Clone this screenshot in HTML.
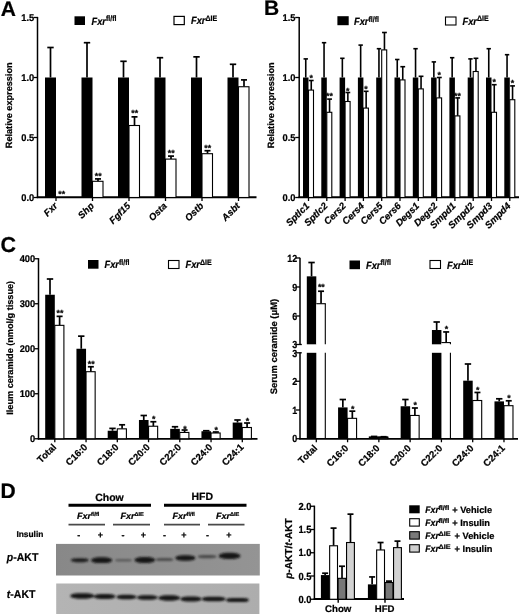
<!DOCTYPE html>
<html lang="en"><head><meta charset="utf-8"><title>Figure</title><style>html,body{margin:0;padding:0;background:#fff}svg{display:block;text-rendering:geometricPrecision}text{stroke:#000;stroke-width:0.22px}</style></head><body>
<svg width="520" height="615" viewBox="0 0 520 615" font-family="'Liberation Sans', sans-serif" fill="#000">
<defs><filter id="bl" x="-20%" y="-50%" width="140%" height="200%"><feGaussianBlur stdDeviation="1.0 0.8"/></filter><filter id="bl2" x="-20%" y="-50%" width="140%" height="200%"><feGaussianBlur stdDeviation="1.0 0.8"/></filter></defs>
<rect x="0.00" y="0.00" width="520.00" height="615.00" fill="#fff"/>
<text x="0.80" y="15.70" font-size="21" font-weight="bold" font-style="normal" text-anchor="start">A</text>
<text x="264.00" y="15.30" font-size="21" font-weight="bold" font-style="normal" text-anchor="start">B</text>
<text x="0.60" y="251.50" font-size="21.5" font-weight="bold" font-style="normal" text-anchor="start">C</text>
<text x="0.60" y="498.30" font-size="21" font-weight="bold" font-style="normal" text-anchor="start">D</text>
<line x1="37.50" y1="16.90" x2="37.50" y2="198.10" stroke="#000" stroke-width="1.5"/>
<line x1="36.80" y1="197.30" x2="256.50" y2="197.30" stroke="#000" stroke-width="1.9"/>
<line x1="33.50" y1="197.50" x2="37.50" y2="197.50" stroke="#000" stroke-width="1.3"/>
<text transform="translate(34.20 200.60) scale(0.96 1)" font-size="9.7" font-weight="bold" font-style="normal" text-anchor="end">0.0</text>
<line x1="33.50" y1="137.50" x2="37.50" y2="137.50" stroke="#000" stroke-width="1.3"/>
<text transform="translate(34.20 140.60) scale(0.96 1)" font-size="9.7" font-weight="bold" font-style="normal" text-anchor="end">0.5</text>
<line x1="33.50" y1="77.50" x2="37.50" y2="77.50" stroke="#000" stroke-width="1.3"/>
<text transform="translate(34.20 80.60) scale(0.96 1)" font-size="9.7" font-weight="bold" font-style="normal" text-anchor="end">1.0</text>
<line x1="33.50" y1="17.50" x2="37.50" y2="17.50" stroke="#000" stroke-width="1.3"/>
<text transform="translate(34.20 20.60) scale(0.96 1)" font-size="9.7" font-weight="bold" font-style="normal" text-anchor="end">1.5</text>
<text transform="translate(12.30 105.30) rotate(-90)" font-size="9.15" font-weight="bold" font-style="normal" text-anchor="middle">Relative expression</text>
<line x1="50.50" y1="47.50" x2="50.50" y2="77.50" stroke="#000" stroke-width="1.7"/>
<line x1="47.30" y1="47.50" x2="53.70" y2="47.50" stroke="#000" stroke-width="1.7"/>
<rect x="45.00" y="77.50" width="11.00" height="120.00" fill="#000"/>
<text x="61.80" y="196.50" font-size="8.8" font-weight="bold" font-style="normal" text-anchor="middle">**</text>
<line x1="56.00" y1="197.50" x2="56.00" y2="201.00" stroke="#000" stroke-width="1.3"/>
<text transform="translate(58.00 206.50) rotate(-45)" font-size="9.5" font-weight="bold" font-style="italic" text-anchor="end">Fxr</text>
<line x1="87.00" y1="42.70" x2="87.00" y2="77.50" stroke="#000" stroke-width="1.7"/>
<line x1="83.80" y1="42.70" x2="90.20" y2="42.70" stroke="#000" stroke-width="1.7"/>
<rect x="81.50" y="77.50" width="11.00" height="120.00" fill="#000"/>
<line x1="98.00" y1="178.90" x2="98.00" y2="181.30" stroke="#000" stroke-width="1.7"/>
<line x1="95.00" y1="178.90" x2="101.00" y2="178.90" stroke="#000" stroke-width="1.7"/>
<rect x="92.50" y="181.30" width="10.50" height="16.20" fill="#fff" stroke="#000" stroke-width="1.1"/>
<text x="98.30" y="178.50" font-size="8.8" font-weight="bold" font-style="normal" text-anchor="middle">**</text>
<line x1="92.50" y1="197.50" x2="92.50" y2="201.00" stroke="#000" stroke-width="1.3"/>
<text transform="translate(94.50 206.50) rotate(-45)" font-size="9.5" font-weight="bold" font-style="italic" text-anchor="end">Shp</text>
<line x1="123.50" y1="61.30" x2="123.50" y2="77.50" stroke="#000" stroke-width="1.7"/>
<line x1="120.30" y1="61.30" x2="126.70" y2="61.30" stroke="#000" stroke-width="1.7"/>
<rect x="118.00" y="77.50" width="11.00" height="120.00" fill="#000"/>
<line x1="134.50" y1="116.86" x2="134.50" y2="125.50" stroke="#000" stroke-width="1.7"/>
<line x1="131.50" y1="116.86" x2="137.50" y2="116.86" stroke="#000" stroke-width="1.7"/>
<rect x="129.00" y="125.50" width="10.50" height="72.00" fill="#fff" stroke="#000" stroke-width="1.1"/>
<text x="134.80" y="116.20" font-size="8.8" font-weight="bold" font-style="normal" text-anchor="middle">**</text>
<line x1="129.00" y1="197.50" x2="129.00" y2="201.00" stroke="#000" stroke-width="1.3"/>
<text transform="translate(131.00 206.50) rotate(-45)" font-size="9.5" font-weight="bold" font-style="italic" text-anchor="end">Fgf15</text>
<line x1="160.00" y1="57.70" x2="160.00" y2="77.50" stroke="#000" stroke-width="1.7"/>
<line x1="156.80" y1="57.70" x2="163.20" y2="57.70" stroke="#000" stroke-width="1.7"/>
<rect x="154.50" y="77.50" width="11.00" height="120.00" fill="#000"/>
<line x1="171.00" y1="156.10" x2="171.00" y2="159.10" stroke="#000" stroke-width="1.7"/>
<line x1="168.00" y1="156.10" x2="174.00" y2="156.10" stroke="#000" stroke-width="1.7"/>
<rect x="165.50" y="159.10" width="10.50" height="38.40" fill="#fff" stroke="#000" stroke-width="1.1"/>
<text x="171.30" y="155.50" font-size="8.8" font-weight="bold" font-style="normal" text-anchor="middle">**</text>
<line x1="165.50" y1="197.50" x2="165.50" y2="201.00" stroke="#000" stroke-width="1.3"/>
<text transform="translate(167.50 206.50) rotate(-45)" font-size="9.5" font-weight="bold" font-style="italic" text-anchor="end">Osta</text>
<line x1="196.50" y1="56.86" x2="196.50" y2="77.50" stroke="#000" stroke-width="1.7"/>
<line x1="193.30" y1="56.86" x2="199.70" y2="56.86" stroke="#000" stroke-width="1.7"/>
<rect x="191.00" y="77.50" width="11.00" height="120.00" fill="#000"/>
<line x1="207.50" y1="150.70" x2="207.50" y2="153.70" stroke="#000" stroke-width="1.7"/>
<line x1="204.50" y1="150.70" x2="210.50" y2="150.70" stroke="#000" stroke-width="1.7"/>
<rect x="202.00" y="153.70" width="10.50" height="43.80" fill="#fff" stroke="#000" stroke-width="1.1"/>
<text x="207.80" y="151.00" font-size="8.8" font-weight="bold" font-style="normal" text-anchor="middle">**</text>
<line x1="202.00" y1="197.50" x2="202.00" y2="201.00" stroke="#000" stroke-width="1.3"/>
<text transform="translate(204.00 206.50) rotate(-45)" font-size="9.5" font-weight="bold" font-style="italic" text-anchor="end">Ostb</text>
<line x1="233.00" y1="64.30" x2="233.00" y2="77.50" stroke="#000" stroke-width="1.7"/>
<line x1="229.80" y1="64.30" x2="236.20" y2="64.30" stroke="#000" stroke-width="1.7"/>
<rect x="227.50" y="77.50" width="11.00" height="120.00" fill="#000"/>
<line x1="244.00" y1="79.90" x2="244.00" y2="86.74" stroke="#000" stroke-width="1.7"/>
<line x1="241.00" y1="79.90" x2="247.00" y2="79.90" stroke="#000" stroke-width="1.7"/>
<rect x="238.50" y="86.74" width="10.50" height="110.76" fill="#fff" stroke="#000" stroke-width="1.1"/>
<line x1="238.50" y1="197.50" x2="238.50" y2="201.00" stroke="#000" stroke-width="1.3"/>
<text transform="translate(240.50 206.50) rotate(-45)" font-size="9.5" font-weight="bold" font-style="italic" text-anchor="end">Asbt</text>
<rect x="74.50" y="16.30" width="10.50" height="8.70" fill="#000"/>
<text transform="translate(91.50 24.60) scale(0.88 1)" font-size="10.5" font-weight="bold" font-style="italic" stroke="#000" stroke-width="0.25">Fxr<tspan font-style="normal" font-size="8.0" dy="-3.4">fl/fl</tspan></text>
<rect x="174.00" y="16.40" width="10.30" height="8.20" fill="#fff" stroke="#000" stroke-width="1.2"/>
<text transform="translate(191.00 24.40) scale(0.88 1)" font-size="10.5" font-weight="bold" font-style="italic" stroke="#000" stroke-width="0.25">Fxr<tspan font-style="normal" font-size="8.0" dy="-3.4">ΔIE</tspan></text>
<line x1="299.20" y1="16.90" x2="299.20" y2="198.10" stroke="#000" stroke-width="1.5"/>
<line x1="298.50" y1="197.30" x2="519.00" y2="197.30" stroke="#000" stroke-width="1.9"/>
<line x1="295.20" y1="197.50" x2="299.20" y2="197.50" stroke="#000" stroke-width="1.3"/>
<text transform="translate(295.40 200.60) scale(0.96 1)" font-size="9.7" font-weight="bold" font-style="normal" text-anchor="end">0.0</text>
<line x1="295.20" y1="137.50" x2="299.20" y2="137.50" stroke="#000" stroke-width="1.3"/>
<text transform="translate(295.40 140.60) scale(0.96 1)" font-size="9.7" font-weight="bold" font-style="normal" text-anchor="end">0.5</text>
<line x1="295.20" y1="77.50" x2="299.20" y2="77.50" stroke="#000" stroke-width="1.3"/>
<text transform="translate(295.40 80.60) scale(0.96 1)" font-size="9.7" font-weight="bold" font-style="normal" text-anchor="end">1.0</text>
<line x1="295.20" y1="17.50" x2="299.20" y2="17.50" stroke="#000" stroke-width="1.3"/>
<text transform="translate(295.40 20.60) scale(0.96 1)" font-size="9.7" font-weight="bold" font-style="normal" text-anchor="end">1.5</text>
<text transform="translate(274.30 105.30) rotate(-90)" font-size="9.15" font-weight="bold" font-style="normal" text-anchor="middle">Relative expression</text>
<line x1="305.75" y1="58.90" x2="305.75" y2="77.50" stroke="#000" stroke-width="1.6"/>
<line x1="303.55" y1="58.90" x2="307.95" y2="58.90" stroke="#000" stroke-width="1.6"/>
<rect x="303.00" y="77.50" width="5.50" height="120.00" fill="#000"/>
<line x1="311.25" y1="80.50" x2="311.25" y2="90.10" stroke="#000" stroke-width="1.6"/>
<line x1="308.85" y1="80.50" x2="313.65" y2="80.50" stroke="#000" stroke-width="1.6"/>
<rect x="308.50" y="90.10" width="5.00" height="107.40" fill="#fff" stroke="#000" stroke-width="1.1"/>
<text x="311.15" y="80.90" font-size="8.8" font-weight="bold" font-style="normal" text-anchor="middle">*</text>
<line x1="308.50" y1="197.50" x2="308.50" y2="201.00" stroke="#000" stroke-width="1.3"/>
<text transform="translate(310.00 206.50) rotate(-45)" font-size="9.6" font-weight="bold" font-style="italic" text-anchor="end">Sptlc1</text>
<line x1="324.05" y1="42.70" x2="324.05" y2="77.50" stroke="#000" stroke-width="1.6"/>
<line x1="321.85" y1="42.70" x2="326.25" y2="42.70" stroke="#000" stroke-width="1.6"/>
<rect x="321.30" y="77.50" width="5.50" height="120.00" fill="#000"/>
<line x1="329.55" y1="99.10" x2="329.55" y2="112.30" stroke="#000" stroke-width="1.6"/>
<line x1="327.15" y1="99.10" x2="331.95" y2="99.10" stroke="#000" stroke-width="1.6"/>
<rect x="326.80" y="112.30" width="5.00" height="85.20" fill="#fff" stroke="#000" stroke-width="1.1"/>
<text x="329.45" y="99.40" font-size="8.8" font-weight="bold" font-style="normal" text-anchor="middle">**</text>
<line x1="326.80" y1="197.50" x2="326.80" y2="201.00" stroke="#000" stroke-width="1.3"/>
<text transform="translate(328.30 206.50) rotate(-45)" font-size="9.6" font-weight="bold" font-style="italic" text-anchor="end">Sptlc2</text>
<line x1="342.35" y1="58.30" x2="342.35" y2="77.50" stroke="#000" stroke-width="1.6"/>
<line x1="340.15" y1="58.30" x2="344.55" y2="58.30" stroke="#000" stroke-width="1.6"/>
<rect x="339.60" y="77.50" width="5.50" height="120.00" fill="#000"/>
<line x1="347.85" y1="92.50" x2="347.85" y2="101.50" stroke="#000" stroke-width="1.6"/>
<line x1="345.45" y1="92.50" x2="350.25" y2="92.50" stroke="#000" stroke-width="1.6"/>
<rect x="345.10" y="101.50" width="5.00" height="96.00" fill="#fff" stroke="#000" stroke-width="1.1"/>
<text x="347.75" y="93.90" font-size="8.8" font-weight="bold" font-style="normal" text-anchor="middle">*</text>
<line x1="345.10" y1="197.50" x2="345.10" y2="201.00" stroke="#000" stroke-width="1.3"/>
<text transform="translate(346.60 206.50) rotate(-45)" font-size="9.6" font-weight="bold" font-style="italic" text-anchor="end">Cers2</text>
<line x1="360.65" y1="45.10" x2="360.65" y2="77.50" stroke="#000" stroke-width="1.6"/>
<line x1="358.45" y1="45.10" x2="362.85" y2="45.10" stroke="#000" stroke-width="1.6"/>
<rect x="357.90" y="77.50" width="5.50" height="120.00" fill="#000"/>
<line x1="366.15" y1="91.30" x2="366.15" y2="108.10" stroke="#000" stroke-width="1.6"/>
<line x1="363.75" y1="91.30" x2="368.55" y2="91.30" stroke="#000" stroke-width="1.6"/>
<rect x="363.40" y="108.10" width="5.00" height="89.40" fill="#fff" stroke="#000" stroke-width="1.1"/>
<text x="366.05" y="92.40" font-size="8.8" font-weight="bold" font-style="normal" text-anchor="middle">*</text>
<line x1="363.40" y1="197.50" x2="363.40" y2="201.00" stroke="#000" stroke-width="1.3"/>
<text transform="translate(364.90 206.50) rotate(-45)" font-size="9.6" font-weight="bold" font-style="italic" text-anchor="end">Cers4</text>
<line x1="378.95" y1="48.70" x2="378.95" y2="77.50" stroke="#000" stroke-width="1.6"/>
<line x1="376.75" y1="48.70" x2="381.15" y2="48.70" stroke="#000" stroke-width="1.6"/>
<rect x="376.20" y="77.50" width="5.50" height="120.00" fill="#000"/>
<line x1="384.45" y1="32.50" x2="384.45" y2="49.90" stroke="#000" stroke-width="1.6"/>
<line x1="382.05" y1="32.50" x2="386.85" y2="32.50" stroke="#000" stroke-width="1.6"/>
<rect x="381.70" y="49.90" width="5.00" height="147.60" fill="#fff" stroke="#000" stroke-width="1.1"/>
<line x1="381.70" y1="197.50" x2="381.70" y2="201.00" stroke="#000" stroke-width="1.3"/>
<text transform="translate(383.20 206.50) rotate(-45)" font-size="9.6" font-weight="bold" font-style="italic" text-anchor="end">Cers5</text>
<line x1="397.25" y1="59.50" x2="397.25" y2="77.50" stroke="#000" stroke-width="1.6"/>
<line x1="395.05" y1="59.50" x2="399.45" y2="59.50" stroke="#000" stroke-width="1.6"/>
<rect x="394.50" y="77.50" width="5.50" height="120.00" fill="#000"/>
<line x1="402.75" y1="66.70" x2="402.75" y2="79.90" stroke="#000" stroke-width="1.6"/>
<line x1="400.35" y1="66.70" x2="405.15" y2="66.70" stroke="#000" stroke-width="1.6"/>
<rect x="400.00" y="79.90" width="5.00" height="117.60" fill="#fff" stroke="#000" stroke-width="1.1"/>
<line x1="400.00" y1="197.50" x2="400.00" y2="201.00" stroke="#000" stroke-width="1.3"/>
<text transform="translate(401.50 206.50) rotate(-45)" font-size="9.6" font-weight="bold" font-style="italic" text-anchor="end">Cers6</text>
<line x1="415.55" y1="48.70" x2="415.55" y2="77.50" stroke="#000" stroke-width="1.6"/>
<line x1="413.35" y1="48.70" x2="417.75" y2="48.70" stroke="#000" stroke-width="1.6"/>
<rect x="412.80" y="77.50" width="5.50" height="120.00" fill="#000"/>
<line x1="421.05" y1="76.30" x2="421.05" y2="88.90" stroke="#000" stroke-width="1.6"/>
<line x1="418.65" y1="76.30" x2="423.45" y2="76.30" stroke="#000" stroke-width="1.6"/>
<rect x="418.30" y="88.90" width="5.00" height="108.60" fill="#fff" stroke="#000" stroke-width="1.1"/>
<line x1="418.30" y1="197.50" x2="418.30" y2="201.00" stroke="#000" stroke-width="1.3"/>
<text transform="translate(419.80 206.50) rotate(-45)" font-size="9.6" font-weight="bold" font-style="italic" text-anchor="end">Degs1</text>
<line x1="433.85" y1="61.90" x2="433.85" y2="77.50" stroke="#000" stroke-width="1.6"/>
<line x1="431.65" y1="61.90" x2="436.05" y2="61.90" stroke="#000" stroke-width="1.6"/>
<rect x="431.10" y="77.50" width="5.50" height="120.00" fill="#000"/>
<line x1="439.35" y1="77.50" x2="439.35" y2="97.90" stroke="#000" stroke-width="1.6"/>
<line x1="436.95" y1="77.50" x2="441.75" y2="77.50" stroke="#000" stroke-width="1.6"/>
<rect x="436.60" y="97.90" width="5.00" height="99.60" fill="#fff" stroke="#000" stroke-width="1.1"/>
<text x="439.25" y="77.90" font-size="8.8" font-weight="bold" font-style="normal" text-anchor="middle">*</text>
<line x1="436.60" y1="197.50" x2="436.60" y2="201.00" stroke="#000" stroke-width="1.3"/>
<text transform="translate(438.10 206.50) rotate(-45)" font-size="9.6" font-weight="bold" font-style="italic" text-anchor="end">Degs2</text>
<line x1="452.15" y1="57.70" x2="452.15" y2="77.50" stroke="#000" stroke-width="1.6"/>
<line x1="449.95" y1="57.70" x2="454.35" y2="57.70" stroke="#000" stroke-width="1.6"/>
<rect x="449.40" y="77.50" width="5.50" height="120.00" fill="#000"/>
<line x1="457.65" y1="97.90" x2="457.65" y2="115.90" stroke="#000" stroke-width="1.6"/>
<line x1="455.25" y1="97.90" x2="460.05" y2="97.90" stroke="#000" stroke-width="1.6"/>
<rect x="454.90" y="115.90" width="5.00" height="81.60" fill="#fff" stroke="#000" stroke-width="1.1"/>
<text x="457.55" y="98.90" font-size="8.8" font-weight="bold" font-style="normal" text-anchor="middle">**</text>
<line x1="454.90" y1="197.50" x2="454.90" y2="201.00" stroke="#000" stroke-width="1.3"/>
<text transform="translate(456.40 206.50) rotate(-45)" font-size="9.6" font-weight="bold" font-style="italic" text-anchor="end">Smpd1</text>
<line x1="470.45" y1="58.90" x2="470.45" y2="77.50" stroke="#000" stroke-width="1.6"/>
<line x1="468.25" y1="58.90" x2="472.65" y2="58.90" stroke="#000" stroke-width="1.6"/>
<rect x="467.70" y="77.50" width="5.50" height="120.00" fill="#000"/>
<line x1="475.95" y1="58.30" x2="475.95" y2="71.50" stroke="#000" stroke-width="1.6"/>
<line x1="473.55" y1="58.30" x2="478.35" y2="58.30" stroke="#000" stroke-width="1.6"/>
<rect x="473.20" y="71.50" width="5.00" height="126.00" fill="#fff" stroke="#000" stroke-width="1.1"/>
<line x1="473.20" y1="197.50" x2="473.20" y2="201.00" stroke="#000" stroke-width="1.3"/>
<text transform="translate(474.70 206.50) rotate(-45)" font-size="9.6" font-weight="bold" font-style="italic" text-anchor="end">Smpd2</text>
<line x1="488.75" y1="48.70" x2="488.75" y2="77.50" stroke="#000" stroke-width="1.6"/>
<line x1="486.55" y1="48.70" x2="490.95" y2="48.70" stroke="#000" stroke-width="1.6"/>
<rect x="486.00" y="77.50" width="5.50" height="120.00" fill="#000"/>
<line x1="494.25" y1="84.70" x2="494.25" y2="112.30" stroke="#000" stroke-width="1.6"/>
<line x1="491.85" y1="84.70" x2="496.65" y2="84.70" stroke="#000" stroke-width="1.6"/>
<rect x="491.50" y="112.30" width="5.00" height="85.20" fill="#fff" stroke="#000" stroke-width="1.1"/>
<text x="494.15" y="85.40" font-size="8.8" font-weight="bold" font-style="normal" text-anchor="middle">*</text>
<line x1="491.50" y1="197.50" x2="491.50" y2="201.00" stroke="#000" stroke-width="1.3"/>
<text transform="translate(493.00 206.50) rotate(-45)" font-size="9.6" font-weight="bold" font-style="italic" text-anchor="end">Smpd3</text>
<line x1="507.05" y1="54.70" x2="507.05" y2="77.50" stroke="#000" stroke-width="1.6"/>
<line x1="504.85" y1="54.70" x2="509.25" y2="54.70" stroke="#000" stroke-width="1.6"/>
<rect x="504.30" y="77.50" width="5.50" height="120.00" fill="#000"/>
<line x1="512.55" y1="85.90" x2="512.55" y2="99.70" stroke="#000" stroke-width="1.6"/>
<line x1="510.15" y1="85.90" x2="514.95" y2="85.90" stroke="#000" stroke-width="1.6"/>
<rect x="509.80" y="99.70" width="5.00" height="97.80" fill="#fff" stroke="#000" stroke-width="1.1"/>
<text x="512.45" y="85.90" font-size="8.8" font-weight="bold" font-style="normal" text-anchor="middle">*</text>
<line x1="509.80" y1="197.50" x2="509.80" y2="201.00" stroke="#000" stroke-width="1.3"/>
<text transform="translate(511.30 206.50) rotate(-45)" font-size="9.6" font-weight="bold" font-style="italic" text-anchor="end">Smpd4</text>
<rect x="337.40" y="16.20" width="11.30" height="9.00" fill="#000"/>
<text transform="translate(354.00 24.90) scale(0.88 1)" font-size="10.5" font-weight="bold" font-style="italic" stroke="#000" stroke-width="0.25">Fxr<tspan font-style="normal" font-size="8.0" dy="-3.4">fl/fl</tspan></text>
<rect x="445.50" y="17.00" width="10.50" height="8.00" fill="#fff" stroke="#000" stroke-width="1.1"/>
<text transform="translate(462.50 24.80) scale(0.88 1)" font-size="10.5" font-weight="bold" font-style="italic" stroke="#000" stroke-width="0.25">Fxr<tspan font-style="normal" font-size="8.0" dy="-3.4">ΔIE</tspan></text>
<line x1="38.50" y1="258.15" x2="38.50" y2="439.35" stroke="#000" stroke-width="1.5"/>
<line x1="37.80" y1="438.85" x2="257.50" y2="438.85" stroke="#000" stroke-width="1.9"/>
<line x1="34.50" y1="438.75" x2="38.50" y2="438.75" stroke="#000" stroke-width="1.3"/>
<text transform="translate(35.20 441.85) scale(0.96 1)" font-size="9.7" font-weight="bold" font-style="normal" text-anchor="end">0</text>
<line x1="34.50" y1="393.75" x2="38.50" y2="393.75" stroke="#000" stroke-width="1.3"/>
<text transform="translate(35.20 396.85) scale(0.96 1)" font-size="9.7" font-weight="bold" font-style="normal" text-anchor="end">100</text>
<line x1="34.50" y1="348.75" x2="38.50" y2="348.75" stroke="#000" stroke-width="1.3"/>
<text transform="translate(35.20 351.85) scale(0.96 1)" font-size="9.7" font-weight="bold" font-style="normal" text-anchor="end">200</text>
<line x1="34.50" y1="303.75" x2="38.50" y2="303.75" stroke="#000" stroke-width="1.3"/>
<text transform="translate(35.20 306.85) scale(0.96 1)" font-size="9.7" font-weight="bold" font-style="normal" text-anchor="end">300</text>
<line x1="34.50" y1="258.75" x2="38.50" y2="258.75" stroke="#000" stroke-width="1.3"/>
<text transform="translate(35.20 261.85) scale(0.96 1)" font-size="9.7" font-weight="bold" font-style="normal" text-anchor="end">400</text>
<text transform="translate(13.30 347.80) rotate(-90)" font-size="9.15" font-weight="bold" font-style="normal" text-anchor="middle">Ileum ceramide (nmol/g tissue)</text>
<line x1="50.00" y1="279.00" x2="50.00" y2="294.75" stroke="#000" stroke-width="1.7"/>
<line x1="46.80" y1="279.00" x2="53.20" y2="279.00" stroke="#000" stroke-width="1.7"/>
<rect x="45.20" y="294.75" width="9.60" height="144.00" fill="#000"/>
<line x1="59.60" y1="316.35" x2="59.60" y2="325.35" stroke="#000" stroke-width="1.7"/>
<line x1="56.60" y1="316.35" x2="62.60" y2="316.35" stroke="#000" stroke-width="1.7"/>
<rect x="54.80" y="325.35" width="9.10" height="113.40" fill="#fff" stroke="#000" stroke-width="1.1"/>
<text x="59.90" y="316.00" font-size="8.8" font-weight="bold" font-style="normal" text-anchor="middle">**</text>
<line x1="54.80" y1="438.75" x2="54.80" y2="442.25" stroke="#000" stroke-width="1.3"/>
<text transform="translate(56.80 447.75) rotate(-45)" font-size="9.6" font-weight="bold" font-style="normal" text-anchor="end">Total</text>
<line x1="81.25" y1="336.15" x2="81.25" y2="348.75" stroke="#000" stroke-width="1.7"/>
<line x1="78.05" y1="336.15" x2="84.45" y2="336.15" stroke="#000" stroke-width="1.7"/>
<rect x="76.45" y="348.75" width="9.60" height="90.00" fill="#000"/>
<line x1="90.85" y1="366.75" x2="90.85" y2="371.70" stroke="#000" stroke-width="1.7"/>
<line x1="87.85" y1="366.75" x2="93.85" y2="366.75" stroke="#000" stroke-width="1.7"/>
<rect x="86.05" y="371.70" width="9.10" height="67.05" fill="#fff" stroke="#000" stroke-width="1.1"/>
<text x="91.15" y="367.00" font-size="8.8" font-weight="bold" font-style="normal" text-anchor="middle">**</text>
<line x1="86.05" y1="438.75" x2="86.05" y2="442.25" stroke="#000" stroke-width="1.3"/>
<text transform="translate(88.05 447.75) rotate(-45)" font-size="9.6" font-weight="bold" font-style="normal" text-anchor="end">C16:0</text>
<line x1="112.50" y1="428.40" x2="112.50" y2="430.74" stroke="#000" stroke-width="1.7"/>
<line x1="109.30" y1="428.40" x2="115.70" y2="428.40" stroke="#000" stroke-width="1.7"/>
<rect x="107.70" y="430.74" width="9.60" height="8.01" fill="#000"/>
<line x1="122.10" y1="424.80" x2="122.10" y2="428.85" stroke="#000" stroke-width="1.7"/>
<line x1="119.10" y1="424.80" x2="125.10" y2="424.80" stroke="#000" stroke-width="1.7"/>
<rect x="117.30" y="428.85" width="9.10" height="9.90" fill="#fff" stroke="#000" stroke-width="1.1"/>
<line x1="117.30" y1="438.75" x2="117.30" y2="442.25" stroke="#000" stroke-width="1.3"/>
<text transform="translate(119.30 447.75) rotate(-45)" font-size="9.6" font-weight="bold" font-style="normal" text-anchor="end">C18:0</text>
<line x1="143.75" y1="415.49" x2="143.75" y2="419.99" stroke="#000" stroke-width="1.7"/>
<line x1="140.55" y1="415.49" x2="146.95" y2="415.49" stroke="#000" stroke-width="1.7"/>
<rect x="138.95" y="419.99" width="9.60" height="18.76" fill="#000"/>
<line x1="153.35" y1="421.74" x2="153.35" y2="426.24" stroke="#000" stroke-width="1.7"/>
<line x1="150.35" y1="421.74" x2="156.35" y2="421.74" stroke="#000" stroke-width="1.7"/>
<rect x="148.55" y="426.24" width="9.10" height="12.51" fill="#fff" stroke="#000" stroke-width="1.1"/>
<text x="153.65" y="422.40" font-size="8.8" font-weight="bold" font-style="normal" text-anchor="middle">*</text>
<line x1="148.55" y1="438.75" x2="148.55" y2="442.25" stroke="#000" stroke-width="1.3"/>
<text transform="translate(150.55 447.75) rotate(-45)" font-size="9.6" font-weight="bold" font-style="normal" text-anchor="end">C20:0</text>
<line x1="175.00" y1="426.74" x2="175.00" y2="428.85" stroke="#000" stroke-width="1.7"/>
<line x1="171.80" y1="426.74" x2="178.20" y2="426.74" stroke="#000" stroke-width="1.7"/>
<rect x="170.20" y="428.85" width="9.60" height="9.90" fill="#000"/>
<line x1="184.60" y1="430.02" x2="184.60" y2="432.45" stroke="#000" stroke-width="1.7"/>
<line x1="181.60" y1="430.02" x2="187.60" y2="430.02" stroke="#000" stroke-width="1.7"/>
<rect x="179.80" y="432.45" width="9.10" height="6.30" fill="#fff" stroke="#000" stroke-width="1.1"/>
<text x="184.90" y="431.70" font-size="8.8" font-weight="bold" font-style="normal" text-anchor="middle">*</text>
<line x1="179.80" y1="438.75" x2="179.80" y2="442.25" stroke="#000" stroke-width="1.3"/>
<text transform="translate(181.80 447.75) rotate(-45)" font-size="9.6" font-weight="bold" font-style="normal" text-anchor="end">C22:0</text>
<line x1="206.25" y1="430.74" x2="206.25" y2="431.24" stroke="#000" stroke-width="1.7"/>
<line x1="203.05" y1="430.74" x2="209.45" y2="430.74" stroke="#000" stroke-width="1.7"/>
<rect x="201.45" y="431.24" width="9.60" height="7.51" fill="#000"/>
<line x1="215.85" y1="432.00" x2="215.85" y2="432.99" stroke="#000" stroke-width="1.7"/>
<line x1="212.85" y1="432.00" x2="218.85" y2="432.00" stroke="#000" stroke-width="1.7"/>
<rect x="211.05" y="432.99" width="9.10" height="5.76" fill="#fff" stroke="#000" stroke-width="1.1"/>
<text x="216.15" y="433.20" font-size="8.8" font-weight="bold" font-style="normal" text-anchor="middle">*</text>
<line x1="211.05" y1="438.75" x2="211.05" y2="442.25" stroke="#000" stroke-width="1.3"/>
<text transform="translate(213.05 447.75) rotate(-45)" font-size="9.6" font-weight="bold" font-style="normal" text-anchor="end">C24:0</text>
<line x1="237.50" y1="419.99" x2="237.50" y2="422.55" stroke="#000" stroke-width="1.7"/>
<line x1="234.30" y1="419.99" x2="240.70" y2="419.99" stroke="#000" stroke-width="1.7"/>
<rect x="232.70" y="422.55" width="9.60" height="16.20" fill="#000"/>
<line x1="247.10" y1="423.00" x2="247.10" y2="427.50" stroke="#000" stroke-width="1.7"/>
<line x1="244.10" y1="423.00" x2="250.10" y2="423.00" stroke="#000" stroke-width="1.7"/>
<rect x="242.30" y="427.50" width="9.10" height="11.25" fill="#fff" stroke="#000" stroke-width="1.1"/>
<text x="247.40" y="423.80" font-size="8.8" font-weight="bold" font-style="normal" text-anchor="middle">*</text>
<line x1="242.30" y1="438.75" x2="242.30" y2="442.25" stroke="#000" stroke-width="1.3"/>
<text transform="translate(244.30 447.75) rotate(-45)" font-size="9.6" font-weight="bold" font-style="normal" text-anchor="end">C24:1</text>
<rect x="88.00" y="260.00" width="10.50" height="8.70" fill="#000"/>
<text transform="translate(104.50 268.00) scale(0.88 1)" font-size="10.5" font-weight="bold" font-style="italic" stroke="#000" stroke-width="0.25">Fxr<tspan font-style="normal" font-size="8.0" dy="-3.4">fl/fl</tspan></text>
<rect x="168.50" y="260.50" width="10.50" height="8.00" fill="#fff" stroke="#000" stroke-width="1.1"/>
<text transform="translate(185.50 268.00) scale(0.88 1)" font-size="10.5" font-weight="bold" font-style="italic" stroke="#000" stroke-width="0.25">Fxr<tspan font-style="normal" font-size="8.0" dy="-3.4">ΔIE</tspan></text>
<line x1="300.00" y1="257.65" x2="300.00" y2="344.60" stroke="#000" stroke-width="1.5"/>
<line x1="300.00" y1="352.40" x2="300.00" y2="439.35" stroke="#000" stroke-width="1.5"/>
<line x1="299.30" y1="438.85" x2="518.00" y2="438.85" stroke="#000" stroke-width="1.9"/>
<line x1="296.00" y1="257.97" x2="300.00" y2="257.97" stroke="#000" stroke-width="1.3"/>
<text transform="translate(297.30 261.67) scale(0.86 1)" font-size="10.4" font-weight="bold" font-style="normal" text-anchor="end">12</text>
<line x1="296.00" y1="286.98" x2="300.00" y2="286.98" stroke="#000" stroke-width="1.3"/>
<text transform="translate(297.30 290.68) scale(0.86 1)" font-size="10.4" font-weight="bold" font-style="normal" text-anchor="end">9</text>
<line x1="296.00" y1="315.99" x2="300.00" y2="315.99" stroke="#000" stroke-width="1.3"/>
<text transform="translate(297.30 319.69) scale(0.86 1)" font-size="10.4" font-weight="bold" font-style="normal" text-anchor="end">6</text>
<line x1="296.00" y1="344.50" x2="301.80" y2="344.50" stroke="#000" stroke-width="1.3"/>
<text transform="translate(297.30 347.50) scale(0.86 1)" font-size="10.4" font-weight="bold" font-style="normal" text-anchor="end">3</text>
<line x1="296.00" y1="352.80" x2="301.80" y2="352.80" stroke="#000" stroke-width="1.3"/>
<text transform="translate(297.30 357.20) scale(0.86 1)" font-size="10.4" font-weight="bold" font-style="normal" text-anchor="end">3</text>
<line x1="296.00" y1="381.25" x2="300.00" y2="381.25" stroke="#000" stroke-width="1.3"/>
<text transform="translate(297.30 384.95) scale(0.86 1)" font-size="10.4" font-weight="bold" font-style="normal" text-anchor="end">2</text>
<line x1="296.00" y1="410.00" x2="300.00" y2="410.00" stroke="#000" stroke-width="1.3"/>
<text transform="translate(297.30 413.70) scale(0.86 1)" font-size="10.4" font-weight="bold" font-style="normal" text-anchor="end">1</text>
<line x1="296.00" y1="438.75" x2="300.00" y2="438.75" stroke="#000" stroke-width="1.3"/>
<text transform="translate(297.30 442.45) scale(0.86 1)" font-size="10.4" font-weight="bold" font-style="normal" text-anchor="end">0</text>
<text transform="translate(276.50 346.60) rotate(-90)" font-size="9.4" font-weight="bold" font-style="normal" text-anchor="middle">Serum ceramide (μM)</text>
<line x1="311.55" y1="262.51" x2="311.55" y2="276.34" stroke="#000" stroke-width="1.7"/>
<line x1="308.35" y1="262.51" x2="314.75" y2="262.51" stroke="#000" stroke-width="1.7"/>
<rect x="306.80" y="276.34" width="9.50" height="67.96" fill="#000"/>
<rect x="306.80" y="352.80" width="9.50" height="85.95" fill="#000"/>
<line x1="321.05" y1="291.23" x2="321.05" y2="303.71" stroke="#000" stroke-width="1.7"/>
<line x1="318.05" y1="291.23" x2="324.05" y2="291.23" stroke="#000" stroke-width="1.7"/>
<rect x="316.30" y="303.71" width="9.00" height="40.59" fill="#fff"/>
<line x1="325.30" y1="303.71" x2="325.30" y2="344.30" stroke="#000" stroke-width="1.1"/>
<line x1="316.30" y1="303.71" x2="325.80" y2="303.71" stroke="#000" stroke-width="1.1"/>
<line x1="325.30" y1="352.80" x2="325.30" y2="438.75" stroke="#000" stroke-width="1.1"/>
<text x="321.35" y="290.00" font-size="8.8" font-weight="bold" font-style="normal" text-anchor="middle">**</text>
<line x1="316.30" y1="438.75" x2="316.30" y2="442.25" stroke="#000" stroke-width="1.3"/>
<text transform="translate(317.80 448.75) rotate(-45)" font-size="9.6" font-weight="bold" font-style="normal" text-anchor="end">Total</text>
<line x1="342.83" y1="399.51" x2="342.83" y2="407.41" stroke="#000" stroke-width="1.7"/>
<line x1="339.63" y1="399.51" x2="346.03" y2="399.51" stroke="#000" stroke-width="1.7"/>
<rect x="338.08" y="407.41" width="9.50" height="31.34" fill="#000"/>
<line x1="352.33" y1="411.15" x2="352.33" y2="418.34" stroke="#000" stroke-width="1.7"/>
<line x1="349.33" y1="411.15" x2="355.33" y2="411.15" stroke="#000" stroke-width="1.7"/>
<rect x="347.58" y="418.34" width="9.00" height="20.41" fill="#fff" stroke="#000" stroke-width="1.1"/>
<text x="352.63" y="411.50" font-size="8.8" font-weight="bold" font-style="normal" text-anchor="middle">*</text>
<line x1="347.58" y1="438.75" x2="347.58" y2="442.25" stroke="#000" stroke-width="1.3"/>
<text transform="translate(349.08 448.75) rotate(-45)" font-size="9.6" font-weight="bold" font-style="normal" text-anchor="end">C16:0</text>
<line x1="374.11" y1="436.45" x2="374.11" y2="437.02" stroke="#000" stroke-width="1.7"/>
<line x1="370.91" y1="436.45" x2="377.31" y2="436.45" stroke="#000" stroke-width="1.7"/>
<rect x="369.36" y="437.02" width="9.50" height="1.73" fill="#000"/>
<line x1="383.61" y1="436.74" x2="383.61" y2="437.31" stroke="#000" stroke-width="1.7"/>
<line x1="380.61" y1="436.74" x2="386.61" y2="436.74" stroke="#000" stroke-width="1.7"/>
<rect x="378.86" y="437.31" width="9.00" height="1.44" fill="#fff" stroke="#000" stroke-width="1.1"/>
<line x1="378.86" y1="438.75" x2="378.86" y2="442.25" stroke="#000" stroke-width="1.3"/>
<text transform="translate(380.36 448.75) rotate(-45)" font-size="9.6" font-weight="bold" font-style="normal" text-anchor="end">C18:0</text>
<line x1="405.39" y1="399.51" x2="405.39" y2="406.26" stroke="#000" stroke-width="1.7"/>
<line x1="402.19" y1="399.51" x2="408.59" y2="399.51" stroke="#000" stroke-width="1.7"/>
<rect x="400.64" y="406.26" width="9.50" height="32.49" fill="#000"/>
<line x1="414.89" y1="407.99" x2="414.89" y2="415.46" stroke="#000" stroke-width="1.7"/>
<line x1="411.89" y1="407.99" x2="417.89" y2="407.99" stroke="#000" stroke-width="1.7"/>
<rect x="410.14" y="415.46" width="9.00" height="23.29" fill="#fff" stroke="#000" stroke-width="1.1"/>
<text x="415.19" y="408.20" font-size="8.8" font-weight="bold" font-style="normal" text-anchor="middle">*</text>
<line x1="410.14" y1="438.75" x2="410.14" y2="442.25" stroke="#000" stroke-width="1.3"/>
<text transform="translate(411.64 448.75) rotate(-45)" font-size="9.6" font-weight="bold" font-style="normal" text-anchor="end">C20:0</text>
<line x1="436.67" y1="321.99" x2="436.67" y2="330.01" stroke="#000" stroke-width="1.7"/>
<line x1="433.47" y1="321.99" x2="439.87" y2="321.99" stroke="#000" stroke-width="1.7"/>
<rect x="431.92" y="330.01" width="9.50" height="14.29" fill="#000"/>
<rect x="431.92" y="352.80" width="9.50" height="85.95" fill="#000"/>
<line x1="446.17" y1="331.95" x2="446.17" y2="342.58" stroke="#000" stroke-width="1.7"/>
<line x1="443.17" y1="331.95" x2="449.17" y2="331.95" stroke="#000" stroke-width="1.7"/>
<rect x="441.42" y="342.58" width="9.00" height="1.72" fill="#fff"/>
<line x1="450.42" y1="342.58" x2="450.42" y2="344.30" stroke="#000" stroke-width="1.1"/>
<line x1="441.42" y1="342.58" x2="450.92" y2="342.58" stroke="#000" stroke-width="1.1"/>
<line x1="450.42" y1="352.80" x2="450.42" y2="438.75" stroke="#000" stroke-width="1.1"/>
<text x="446.47" y="332.00" font-size="8.8" font-weight="bold" font-style="normal" text-anchor="middle">*</text>
<line x1="441.42" y1="438.75" x2="441.42" y2="442.25" stroke="#000" stroke-width="1.3"/>
<text transform="translate(442.92 448.75) rotate(-45)" font-size="9.6" font-weight="bold" font-style="normal" text-anchor="end">C22:0</text>
<line x1="467.95" y1="364.00" x2="467.95" y2="380.68" stroke="#000" stroke-width="1.7"/>
<line x1="464.75" y1="364.00" x2="471.15" y2="364.00" stroke="#000" stroke-width="1.7"/>
<rect x="463.20" y="380.68" width="9.50" height="58.07" fill="#000"/>
<line x1="477.45" y1="392.46" x2="477.45" y2="400.51" stroke="#000" stroke-width="1.7"/>
<line x1="474.45" y1="392.46" x2="480.45" y2="392.46" stroke="#000" stroke-width="1.7"/>
<rect x="472.70" y="400.51" width="9.00" height="38.24" fill="#fff" stroke="#000" stroke-width="1.1"/>
<text x="477.75" y="393.00" font-size="8.8" font-weight="bold" font-style="normal" text-anchor="middle">*</text>
<line x1="472.70" y1="438.75" x2="472.70" y2="442.25" stroke="#000" stroke-width="1.3"/>
<text transform="translate(474.20 448.75) rotate(-45)" font-size="9.6" font-weight="bold" font-style="normal" text-anchor="end">C24:0</text>
<line x1="499.23" y1="398.79" x2="499.23" y2="401.38" stroke="#000" stroke-width="1.7"/>
<line x1="496.03" y1="398.79" x2="502.43" y2="398.79" stroke="#000" stroke-width="1.7"/>
<rect x="494.48" y="401.38" width="9.50" height="37.38" fill="#000"/>
<line x1="508.73" y1="400.80" x2="508.73" y2="405.69" stroke="#000" stroke-width="1.7"/>
<line x1="505.73" y1="400.80" x2="511.73" y2="400.80" stroke="#000" stroke-width="1.7"/>
<rect x="503.98" y="405.69" width="9.00" height="33.06" fill="#fff" stroke="#000" stroke-width="1.1"/>
<text x="509.03" y="401.40" font-size="8.8" font-weight="bold" font-style="normal" text-anchor="middle">*</text>
<line x1="503.98" y1="438.75" x2="503.98" y2="442.25" stroke="#000" stroke-width="1.3"/>
<text transform="translate(505.48 448.75) rotate(-45)" font-size="9.6" font-weight="bold" font-style="normal" text-anchor="end">C24:1</text>
<rect x="368.80" y="436.40" width="19.40" height="2.20" fill="#000"/>
<rect x="349.50" y="260.50" width="10.50" height="8.70" fill="#000"/>
<text transform="translate(366.00 268.50) scale(0.88 1)" font-size="10.5" font-weight="bold" font-style="italic" stroke="#000" stroke-width="0.25">Fxr<tspan font-style="normal" font-size="8.0" dy="-3.4">fl/fl</tspan></text>
<rect x="430.00" y="260.50" width="10.50" height="8.00" fill="#fff" stroke="#000" stroke-width="1.1"/>
<text transform="translate(447.00 268.50) scale(0.88 1)" font-size="10.5" font-weight="bold" font-style="italic" stroke="#000" stroke-width="0.25">Fxr<tspan font-style="normal" font-size="8.0" dy="-3.4">ΔIE</tspan></text>
<defs><linearGradient id="g1" x1="0" y1="0" x2="1" y2="0"><stop offset="0" stop-color="#888888"/><stop offset="1" stop-color="#949494"/></linearGradient><linearGradient id="g2" x1="0" y1="0" x2="1" y2="0"><stop offset="0" stop-color="#b4b4b4"/><stop offset="1" stop-color="#adadad"/></linearGradient></defs>
<rect x="56.00" y="543.90" width="203.80" height="31.60" fill="url(#g1)"/>
<rect x="56.20" y="583.50" width="203.20" height="30.50" fill="url(#g2)"/>
<text x="109.50" y="501.00" font-size="10.5" font-weight="bold" font-style="normal" text-anchor="middle">Chow</text>
<text x="202.20" y="499.80" font-size="10.5" font-weight="bold" font-style="normal" text-anchor="middle">HFD</text>
<line x1="68.50" y1="505.20" x2="151.00" y2="505.20" stroke="#000" stroke-width="3"/>
<line x1="164.00" y1="505.20" x2="246.50" y2="505.20" stroke="#000" stroke-width="3"/>
<line x1="68.50" y1="524.60" x2="105.00" y2="524.60" stroke="#4a4a4a" stroke-width="1.8"/>
<line x1="113.00" y1="524.60" x2="150.00" y2="524.60" stroke="#4a4a4a" stroke-width="1.8"/>
<line x1="164.00" y1="524.60" x2="200.00" y2="524.60" stroke="#4a4a4a" stroke-width="1.8"/>
<line x1="208.00" y1="524.60" x2="244.50" y2="524.60" stroke="#4a4a4a" stroke-width="1.8"/>
<text x="77.00" y="518.60" font-size="9" font-weight="bold" font-style="italic">Fxr<tspan font-style="normal" font-size="5.6" dy="-3">fl/fl</tspan></text>
<text x="120.50" y="518.60" font-size="9" font-weight="bold" font-style="italic">Fxr<tspan font-style="normal" font-size="5.6" dy="-3">ΔIE</tspan></text>
<text x="172.50" y="518.60" font-size="9" font-weight="bold" font-style="italic">Fxr<tspan font-style="normal" font-size="5.6" dy="-3">fl/fl</tspan></text>
<text x="216.00" y="518.60" font-size="9" font-weight="bold" font-style="italic">Fxr<tspan font-style="normal" font-size="5.6" dy="-3">ΔIE</tspan></text>
<text x="78.70" y="537.50" font-size="9" font-weight="bold" font-style="normal" text-anchor="middle" stroke="#000" stroke-width="0.45">-</text>
<text x="100.30" y="537.50" font-size="9" font-weight="bold" font-style="normal" text-anchor="middle" stroke="#000" stroke-width="0.45">+</text>
<text x="123.00" y="537.50" font-size="9" font-weight="bold" font-style="normal" text-anchor="middle" stroke="#000" stroke-width="0.45">-</text>
<text x="143.50" y="537.50" font-size="9" font-weight="bold" font-style="normal" text-anchor="middle" stroke="#000" stroke-width="0.45">+</text>
<text x="164.50" y="537.50" font-size="9" font-weight="bold" font-style="normal" text-anchor="middle" stroke="#000" stroke-width="0.45">-</text>
<text x="184.00" y="537.50" font-size="9" font-weight="bold" font-style="normal" text-anchor="middle" stroke="#000" stroke-width="0.45">+</text>
<text x="207.50" y="537.50" font-size="9" font-weight="bold" font-style="normal" text-anchor="middle" stroke="#000" stroke-width="0.45">-</text>
<text x="229.00" y="537.50" font-size="9" font-weight="bold" font-style="normal" text-anchor="middle" stroke="#000" stroke-width="0.45">+</text>
<text x="43.40" y="537.00" font-size="8.4" font-weight="bold" font-style="normal" text-anchor="end">Insulin</text>
<text transform="translate(6.8 561) scale(0.93 1)" font-size="11.3" font-weight="bold"><tspan font-style="italic">p</tspan>-AKT</text>
<text transform="translate(6.8 597.6) scale(0.93 1)" font-size="11.3" font-weight="bold"><tspan font-style="italic">t</tspan>-AKT</text>
<g filter="url(#bl)">
<rect x="70.90" y="558.20" width="17.90" height="4.00" rx="6.00" ry="2.00" fill="#1c1c1c"/>
<rect x="91.00" y="557.30" width="21.30" height="5.80" rx="8.28" ry="2.90" fill="#141414"/>
<rect x="115.10" y="558.90" width="16.90" height="2.60" rx="3.90" ry="1.30" fill="#5a5a5a"/>
<rect x="134.30" y="557.10" width="21.00" height="5.80" rx="8.16" ry="2.90" fill="#141414"/>
<rect x="155.70" y="558.00" width="17.60" height="3.00" rx="4.50" ry="1.50" fill="#4c4c4c"/>
<rect x="175.20" y="555.20" width="20.30" height="5.60" rx="7.88" ry="2.80" fill="#161616"/>
<rect x="197.70" y="554.90" width="18.90" height="3.40" rx="5.10" ry="1.70" fill="#484848"/>
<rect x="218.70" y="552.80" width="21.80" height="6.20" rx="8.48" ry="3.10" fill="#141414"/>
</g>
<g filter="url(#bl2)">
<rect x="70.20" y="593.15" width="24.00" height="5.50" rx="7.70" ry="2.75" fill="#161616"/>
<rect x="93.90" y="594.05" width="21.50" height="4.90" rx="6.86" ry="2.45" fill="#161616"/>
<rect x="116.30" y="594.75" width="20.20" height="4.50" rx="6.30" ry="2.25" fill="#161616"/>
<rect x="136.80" y="595.25" width="20.90" height="4.50" rx="6.30" ry="2.25" fill="#161616"/>
<rect x="158.30" y="595.35" width="21.90" height="5.30" rx="7.42" ry="2.65" fill="#161616"/>
<rect x="180.50" y="596.55" width="20.90" height="4.90" rx="6.86" ry="2.45" fill="#161616"/>
<rect x="201.70" y="596.75" width="24.00" height="4.50" rx="6.30" ry="2.25" fill="#161616"/>
<rect x="226.00" y="598.00" width="22.90" height="4.00" rx="5.60" ry="2.00" fill="#161616"/>
</g>
<line x1="314.40" y1="505.65" x2="314.40" y2="599.85" stroke="#000" stroke-width="1.5"/>
<line x1="313.70" y1="599.05" x2="404.00" y2="599.05" stroke="#000" stroke-width="1.9"/>
<line x1="310.40" y1="599.25" x2="314.40" y2="599.25" stroke="#000" stroke-width="1.3"/>
<text transform="translate(311.40 602.75) scale(0.9 1)" font-size="10.4" font-weight="bold" font-style="normal" text-anchor="end">0.0</text>
<line x1="310.40" y1="576.00" x2="314.40" y2="576.00" stroke="#000" stroke-width="1.3"/>
<text transform="translate(311.40 579.50) scale(0.9 1)" font-size="10.4" font-weight="bold" font-style="normal" text-anchor="end">0.5</text>
<line x1="310.40" y1="552.75" x2="314.40" y2="552.75" stroke="#000" stroke-width="1.3"/>
<text transform="translate(311.40 556.25) scale(0.9 1)" font-size="10.4" font-weight="bold" font-style="normal" text-anchor="end">1.0</text>
<line x1="310.40" y1="529.50" x2="314.40" y2="529.50" stroke="#000" stroke-width="1.3"/>
<text transform="translate(311.40 533.00) scale(0.9 1)" font-size="10.4" font-weight="bold" font-style="normal" text-anchor="end">1.5</text>
<line x1="310.40" y1="506.25" x2="314.40" y2="506.25" stroke="#000" stroke-width="1.3"/>
<text transform="translate(311.40 509.75) scale(0.9 1)" font-size="10.4" font-weight="bold" font-style="normal" text-anchor="end">2.0</text>
<text x="292.3" y="548.5" font-size="10.1" font-weight="bold" text-anchor="middle" transform="rotate(-90 292.3 548.5)"><tspan font-style="italic">p</tspan>-AKT/<tspan font-style="italic">t</tspan>-AKT</text>
<line x1="325.12" y1="573.21" x2="325.12" y2="575.07" stroke="#000" stroke-width="1.7"/>
<line x1="322.12" y1="573.21" x2="328.12" y2="573.21" stroke="#000" stroke-width="1.7"/>
<rect x="320.90" y="575.07" width="8.45" height="24.18" fill="#000"/>
<line x1="333.57" y1="528.11" x2="333.57" y2="545.77" stroke="#000" stroke-width="1.7"/>
<line x1="330.57" y1="528.11" x2="336.57" y2="528.11" stroke="#000" stroke-width="1.7"/>
<rect x="329.65" y="545.77" width="7.85" height="53.48" fill="#fff" stroke="#000" stroke-width="1.1"/>
<line x1="342.02" y1="566.24" x2="342.02" y2="578.33" stroke="#000" stroke-width="1.7"/>
<line x1="339.02" y1="566.24" x2="345.02" y2="566.24" stroke="#000" stroke-width="1.7"/>
<rect x="338.10" y="578.33" width="7.85" height="20.92" fill="#777" stroke="#000" stroke-width="1.1"/>
<line x1="350.48" y1="514.15" x2="350.48" y2="542.52" stroke="#000" stroke-width="1.7"/>
<line x1="347.48" y1="514.15" x2="353.48" y2="514.15" stroke="#000" stroke-width="1.7"/>
<rect x="346.55" y="542.52" width="7.85" height="56.73" fill="#d2d2d2" stroke="#000" stroke-width="1.1"/>
<line x1="372.12" y1="576.93" x2="372.12" y2="584.37" stroke="#000" stroke-width="1.7"/>
<line x1="369.12" y1="576.93" x2="375.12" y2="576.93" stroke="#000" stroke-width="1.7"/>
<rect x="367.90" y="584.37" width="8.45" height="14.88" fill="#000"/>
<line x1="380.57" y1="542.52" x2="380.57" y2="549.96" stroke="#000" stroke-width="1.7"/>
<line x1="377.57" y1="542.52" x2="383.57" y2="542.52" stroke="#000" stroke-width="1.7"/>
<rect x="376.65" y="549.96" width="7.85" height="49.29" fill="#fff" stroke="#000" stroke-width="1.1"/>
<line x1="389.02" y1="581.12" x2="389.02" y2="582.51" stroke="#000" stroke-width="1.7"/>
<line x1="386.02" y1="581.12" x2="392.02" y2="581.12" stroke="#000" stroke-width="1.7"/>
<rect x="385.10" y="582.51" width="7.85" height="16.74" fill="#777" stroke="#000" stroke-width="1.1"/>
<line x1="397.48" y1="541.12" x2="397.48" y2="547.63" stroke="#000" stroke-width="1.7"/>
<line x1="394.48" y1="541.12" x2="400.48" y2="541.12" stroke="#000" stroke-width="1.7"/>
<rect x="393.55" y="547.63" width="7.85" height="51.62" fill="#d2d2d2" stroke="#000" stroke-width="1.1"/>
<line x1="338.20" y1="599.25" x2="338.20" y2="602.85" stroke="#000" stroke-width="1.4"/>
<line x1="385.00" y1="599.25" x2="385.00" y2="602.85" stroke="#000" stroke-width="1.4"/>
<text x="338.20" y="612.30" font-size="9.7" font-weight="bold" font-style="normal" text-anchor="middle">Chow</text>
<text x="384.60" y="612.30" font-size="9.6" font-weight="bold" font-style="normal" text-anchor="middle">HFD</text>
<rect x="409.20" y="505.30" width="10.50" height="8.00" fill="#000"/>
<text transform="translate(425.30 512.80) scale(0.9 1)" font-size="9.6" font-weight="bold" font-style="italic" text-anchor="start">Fxr</text>
<text transform="translate(438.40 510.30) scale(1.12 1)" font-size="6.5" font-weight="bold" font-style="normal" text-anchor="start">fl/fl</text>
<text x="452.20" y="512.80" font-size="9.25" font-weight="bold" font-style="normal" text-anchor="start">+ Vehicle</text>
<rect x="409.70" y="518.70" width="9.60" height="7.40" fill="#fff" stroke="#000" stroke-width="1.1"/>
<text transform="translate(425.30 525.80) scale(0.9 1)" font-size="9.6" font-weight="bold" font-style="italic" text-anchor="start">Fxr</text>
<text transform="translate(438.40 523.30) scale(1.12 1)" font-size="6.5" font-weight="bold" font-style="normal" text-anchor="start">fl/fl</text>
<text x="452.20" y="525.80" font-size="9.25" font-weight="bold" font-style="normal" text-anchor="start">+ Insulin</text>
<rect x="409.70" y="531.70" width="9.60" height="7.40" fill="#7a7a7a" stroke="#000" stroke-width="1.1"/>
<text transform="translate(425.30 538.80) scale(0.9 1)" font-size="9.6" font-weight="bold" font-style="italic" text-anchor="start">Fxr</text>
<text transform="translate(438.40 536.30) scale(1.12 1)" font-size="6.5" font-weight="bold" font-style="normal" text-anchor="start">ΔIE</text>
<text x="454.60" y="538.80" font-size="9.25" font-weight="bold" font-style="normal" text-anchor="start">+ Vehicle</text>
<rect x="409.70" y="544.70" width="9.60" height="7.40" fill="#d0d0d0" stroke="#000" stroke-width="1.1"/>
<text transform="translate(425.30 551.80) scale(0.9 1)" font-size="9.6" font-weight="bold" font-style="italic" text-anchor="start">Fxr</text>
<text transform="translate(438.40 549.30) scale(1.12 1)" font-size="6.5" font-weight="bold" font-style="normal" text-anchor="start">ΔIE</text>
<text x="454.60" y="551.80" font-size="9.25" font-weight="bold" font-style="normal" text-anchor="start">+ Insulin</text>
</svg>
</body></html>
